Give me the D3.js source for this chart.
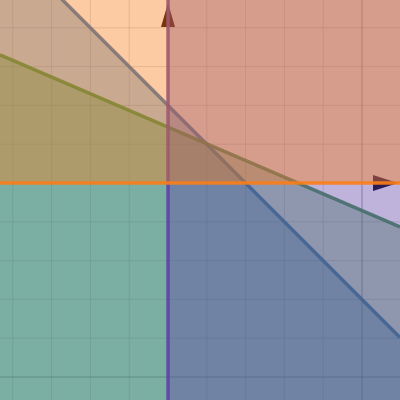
<!DOCTYPE html><html><head><script src="https://cdn.jsdelivr.net/npm/d3@7"></script>
<style>body{margin:0}svg{display:block}</style></head><body><svg id="c" width="400" height="400"></svg>
<script>
// inequalities (drawn in this order): y (<|>) m*x + b, or x > c
const lineNames = ["y<2-x","y<1.44-0.43x","x>0","y>0"];
const slopes = [-1, -0.43, null, 0];
const intercepts = [2, 1.44, 0, 0];
const shadeSides = ["below","below","right","above"];
const colors = ["#2d70b3","#388c46","#6042a6","#fa7e19"];
const gridTicksX = [-4,-3,-2,-1,1,2,3,4,5];
const gridTicksY = [-5,-4,-3,-2,-1,1,2,3,4];

const W=400,H=400,u=38.8;
const x=d3.scaleLinear().domain([-168/u,(W-168)/u]).range([0,W]);
const y=d3.scaleLinear().domain([-(H-183)/u,183/u]).range([H,0]);
const svg=d3.select("#c");
svg.append("rect").attr("width",W).attr("height",H).attr("fill","#fff");
const g=svg.append("g");
g.selectAll(".gx").data(gridTicksX).join("line").attr("x1",d=>x(d)).attr("x2",d=>x(d)).attr("y1",0).attr("y2",H)
 .attr("stroke",d=>d===5?"#444":"#999").attr("stroke-opacity",d=>d===5?0.5:0.35);
g.selectAll(".gy").data(gridTicksY).join("line").attr("y1",d=>y(d)).attr("y2",d=>y(d)).attr("x1",0).attr("x2",W)
 .attr("stroke",d=>d===-5?"#444":"#999").attr("stroke-opacity",d=>d===-5?0.5:0.35);
const [x0,x1]=x.domain(),[y0,y1]=y.domain();
const ln=d3.line().x(d=>x(d[0])).y(d=>y(d[1]));
g.append("path").attr("d",`M${x(0)-7},${27} L${x(0)},${3} L${x(0)+7},${27} Z`).attr("fill","#2a0000");
g.append("path").attr("d",`M${373},${y(0)-8} L${398},${y(0)} L${373},${y(0)+8} Z`).attr("fill","#0a0020");
lineNames.forEach((n,i)=>{
  let pts,lp;
  if(slopes[i]===null){ const c=intercepts[i]; pts=[[c,y0],[x1,y0],[x1,y1],[c,y1]]; lp=[[c,y0],[c,y1]]; }
  else{
    const f=v=>slopes[i]*v+intercepts[i];
    const edge = shadeSides[i]==="above"?y1:y0;
    pts=[[x0,f(x0)],[x1,f(x1)],[x1,edge],[x0,edge]];
    lp=[[x0,f(x0)],[x1,f(x1)]];
  }
  g.append("path").attr("d",ln(lp)).attr("stroke",colors[i]).attr("stroke-width",3.5).attr("fill","none").attr("stroke-opacity",0.9);
  g.append("path").attr("d",ln(pts)+"Z").attr("fill",colors[i]).attr("fill-opacity",0.4);
});
</script></body></html>
